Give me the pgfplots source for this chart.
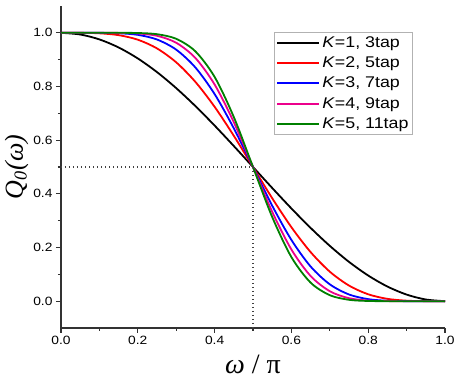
\documentclass[border=0pt]{standalone}
\usepackage{fontspec}
\setmainfont{Liberation Sans}[FakeStretch=1.15]
\newfontfamily\labelfont{Liberation Serif}
\usepackage{pgfplots}
\pgfplotsset{compat=1.18}
\definecolor{dgreen}{RGB}{0,128,0}
\definecolor{axgray}{RGB}{50,50,50}
\begin{document}
\begin{tikzpicture}
\begin{axis}[name=ax,
  scale only axis, width=384pt, height=322pt,
  xmin=0, xmax=1, ymin=-0.1, ymax=1.1,
  axis lines=left,
  axis line style={-, line width=1.4pt, axgray},
  xtick={0,0.2,...,1.0}, ytick={0,0.2,...,1.0},
  minor x tick num=1, minor y tick num=1,
  tick align=outside,
  major tick length=5pt, minor tick length=3pt,
  every tick/.style={axgray, line width=1.1pt},
  tick label style={font=\fontsize{12}{14}\selectfont},
  /pgf/number format/assume math mode=true,
  /pgf/number format/.cd, fixed, fixed zerofill, precision=1, /pgfplots/.cd,
  xlabel={\labelfont\fontsize{28}{30}\selectfont\textit{ω} / π},
  ylabel={\labelfont\fontsize{26}{28}\selectfont\textit{Q}\textsubscript{\textit{0}}\textit{(ω)}},
  xlabel style={yshift=-3pt},
  ylabel style={yshift=-2pt},
  legend style={at={(0.555,0.919)}, anchor=north west, draw=gray!60, line width=0.6pt,
    font=\fontsize{15.5}{17}\selectfont, row sep=4pt, inner sep=2pt},
  legend cell align=left,
  legend image code/.code={\draw[#1, line width=2pt] (0pt,0pt) -- (42pt,0pt);},
]
\addplot[black, line width=1.8pt, smooth] coordinates {(0,1)(0.05,0.9938)(0.10,0.9755)(0.15,0.9455)(0.20,0.9045)(0.25,0.8536)(0.30,0.7939)(0.35,0.7270)(0.40,0.6545)(0.45,0.5782)(0.50,0.5)(0.55,0.4218)(0.60,0.3455)(0.65,0.2730)(0.70,0.2061)(0.75,0.1464)(0.80,0.0955)(0.85,0.0545)(0.90,0.0245)(0.95,0.0062)(1,0)};
\addlegendentry{\textit{K}=1, 3tap}
\addplot[red, line width=1.8pt, smooth] coordinates {(0,1)(0.05,0.9999)(0.10,0.9982)(0.15,0.9914)(0.20,0.9744)(0.25,0.9419)(0.30,0.8901)(0.35,0.8171)(0.40,0.7244)(0.45,0.6164)(0.50,0.5)(0.55,0.3836)(0.60,0.2756)(0.65,0.1829)(0.70,0.1099)(0.75,0.0581)(0.80,0.0256)(0.85,0.0086)(0.90,0.0018)(0.95,0.0001)(1,0)};
\addlegendentry{\textit{K}=2, 5tap}
\addplot[blue, line width=1.8pt, smooth] coordinates {(0,1)(0.05,1.0000)(0.10,0.9999)(0.15,0.9985)(0.20,0.9925)(0.25,0.9751)(0.30,0.9373)(0.35,0.8708)(0.40,0.7718)(0.45,0.6443)(0.50,0.5)(0.55,0.3557)(0.60,0.2282)(0.65,0.1292)(0.70,0.0627)(0.75,0.0249)(0.80,0.0075)(0.85,0.0015)(0.90,0.0001)(0.95,0)(1,0)};
\addlegendentry{\textit{K}=3, 7tap}
\addplot[magenta, line width=1.8pt, smooth] coordinates {(0,1)(0.05,1.0000)(0.10,1.0000)(0.15,0.9997)(0.20,0.9977)(0.25,0.9889)(0.30,0.9630)(0.35,0.9062)(0.40,0.8075)(0.45,0.6670)(0.50,0.5)(0.55,0.3330)(0.60,0.1925)(0.65,0.0938)(0.70,0.0370)(0.75,0.0111)(0.80,0.0023)(0.85,0.0003)(0.90,0)(0.95,0)(1,0)};
\addlegendentry{\textit{K}=4, 9tap}
\addplot[dgreen, line width=1.8pt, smooth] coordinates {(0,1)(0.05,1.0000)(0.10,1.0000)(0.15,1.0000)(0.20,0.9993)(0.25,0.9949)(0.30,0.9778)(0.35,0.9309)(0.40,0.8358)(0.45,0.6863)(0.50,0.5)(0.55,0.3137)(0.60,0.1642)(0.65,0.0691)(0.70,0.0222)(0.75,0.0051)(0.80,0.0007)(0.85,0)(0.90,0)(0.95,0)(1,0)};
\addlegendentry{\textit{K}=5, 11tap}
\addplot[black!75, line width=1.2pt, dash pattern=on 1.2pt off 2.8pt, sharp plot, forget plot] coordinates {(0,0.5)(0.5,0.5)(0.5,-0.1)};
\end{axis}
\pgfresetboundingbox
\path (ax.south west) ++(-61pt,-59pt) coordinate (bl);
\path (ax.north east) ++(29pt,6pt) coordinate (tr);
\path (bl) rectangle (tr);
\end{tikzpicture}
\end{document}
